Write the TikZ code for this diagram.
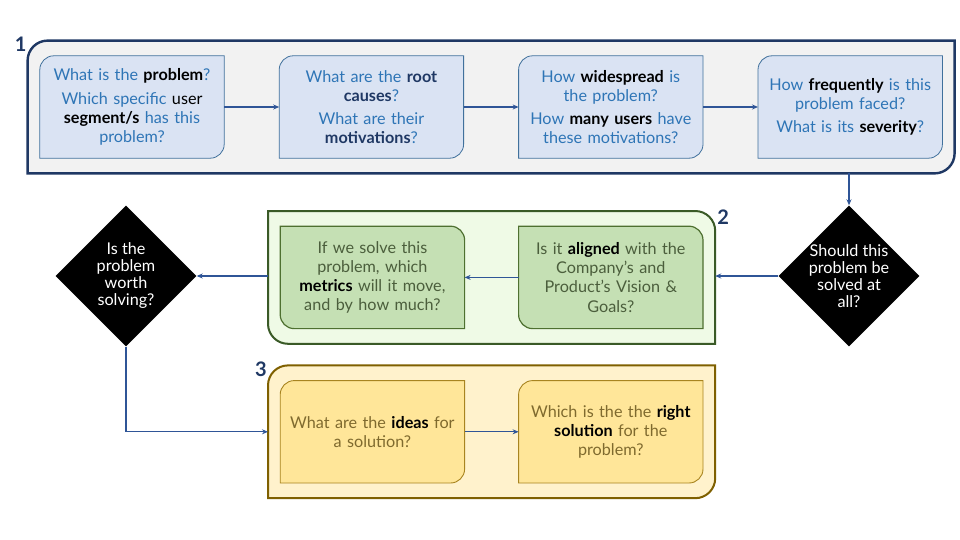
\documentclass[tikz,border=0pt]{standalone}
\usepackage{fontspec}
\setmainfont{Lato}
\usepackage{xcolor}
\definecolor{navyLine}{HTML}{1F3864}
\definecolor{groupOneFill}{HTML}{F2F2F2}
\definecolor{boxBlueFill}{HTML}{DAE3F3}
\definecolor{boxBlueLine}{HTML}{41719C}
\definecolor{textBlue}{HTML}{2E75B6}
\definecolor{groupTwoFill}{HTML}{EFFAE6}
\definecolor{groupTwoLine}{HTML}{3A5A27}
\definecolor{boxGreenFill}{HTML}{C5E0B4}
\definecolor{boxGreenLine}{HTML}{4E7030}
\definecolor{textGreen}{HTML}{4B5E3C}
\definecolor{groupThreeFill}{HTML}{FFF2CC}
\definecolor{groupThreeLine}{HTML}{7F6000}
\definecolor{boxYellowFill}{HTML}{FFE699}
\definecolor{boxYellowLine}{HTML}{A88420}
\definecolor{textYellow}{HTML}{7F6A2E}
\definecolor{arrowBlue}{HTML}{2F5597}
\usepackage{tikz}
\usetikzlibrary{arrows.meta, positioning, shapes.geometric, fit, backgrounds}

% outline with rounded top-left and bottom-right corners
\newcommand{\roundTLBR}[3]{%
  \path[#3] ([yshift=-#2]#1.north west) arc[start angle=180, end angle=90, radius=#2]
    -- (#1.north east) -- ([yshift=#2]#1.south east)
    arc[start angle=0, end angle=-90, radius=#2] -- (#1.south west) -- cycle;}
% outline with rounded top-right and bottom-left corners
\newcommand{\roundTRBL}[3]{%
  \path[#3] (#1.north west) -- ([xshift=-#2]#1.north east)
    arc[start angle=90, end angle=0, radius=#2] -- (#1.south east)
    -- ([xshift=#2]#1.south west) arc[start angle=270, end angle=180, radius=#2] -- cycle;}
\newcommand{\kw}[1]{\textbf{\color{black}#1}}
\newcommand{\kwnavy}[1]{\textbf{\color{navyLine}#1}}

\begin{document}
\begin{tikzpicture}[
		x=1pt, y=1pt,
		node distance=55pt,
		qbox/.style={
			text width=172pt,
			inner sep=6pt,
			minimum height=102pt,
			align=center,
			font=\fontsize{16.2}{19.2}\selectfont
		},
		bluebox/.style={qbox, text=textBlue},
		greenbox/.style={qbox, text=textGreen},
		yellowbox/.style={qbox, text=textYellow},
		group/.style={inner xsep=12pt, inner ysep=15pt},
		decision/.style={
			diamond, aspect=1,
			fill=black, text=white,
			minimum width=141pt, minimum height=141pt,
			inner sep=-6pt,
			align=center,
			font=\fontsize{16.2}{17}\selectfont
		},
		grouplabel/.style={font=\fontsize{20}{20}\selectfont\bfseries, text=navyLine},
		arrow/.style={-{Stealth[length=6pt, width=5pt]}, draw=arrowBlue, line width=1.1pt}
		]
		
		\useasboundingbox (0,0) rectangle (960,-540);
		
		% step 1
		\node[bluebox] (problem) at (132,-107) {What is the \kw{problem}?\\[4pt] Which specific {\color{black}user}\\ \kw{segment/s} has this\\ problem?};
		\node[bluebox, right=of problem] (causes) {What are the \kwnavy{root}\\ \kwnavy{causes}?\\[4pt] What are their\\ \kwnavy{motivations}?};
		\node[bluebox, right=of causes] (spread) {How \kw{widespread} is\\ the problem?\\[4pt] How \kw{many users} have\\ these motivations?};
		\node[bluebox, right=of spread] (frequency) {How \kw{frequently} is this\\ problem faced?\\[4pt] What is its \kw{severity}?};
		
		% step 2
		\node[decision] (shouldsolve) at (849,-276) {Should this\\ problem be\\ solved at\\ all?};
		\node[greenbox, below=68pt of spread] (aligned) {Is it \kw{aligned} with the\\ Company’s and\\ Product’s Vision \&\\ Goals?};
		\node[greenbox, left=54pt of aligned] (metrics) {If we solve this\\ problem, which\\ \kw{metrics} will it move,\\ and by how much?};
		\node[decision] (worthit) at (126,-276) {Is the\\ problem\\ worth\\ solving?};
		
		% step 3
		\node[yellowbox, below=52pt of metrics] (ideas) {What are the \kw{ideas} for\\ a solution?};
		\node[yellowbox, right=54pt of ideas] (solution) {Which is the the \kw{right}\\ \kw{solution} for the\\ problem?};
		
		\node[group, fit=(problem)(frequency)] (stepone) {};
		\node[group, fit=(metrics)(aligned)] (steptwo) {};
		\node[group, fit=(ideas)(solution)] (stepthree) {};
		
		\begin{scope}[on background layer]
			\fill[white] (0,0) rectangle (960,-540);
			\roundTLBR{stepone}{20pt}{fill=groupOneFill, draw=navyLine, line width=2.4pt}
			\roundTRBL{steptwo}{20pt}{fill=groupTwoFill, draw=groupTwoLine, line width=2pt}
			\roundTLBR{stepthree}{20pt}{fill=groupThreeFill, draw=groupThreeLine, line width=2pt}
			\foreach \n in {problem, causes, spread, frequency}
				{\roundTLBR{\n}{14pt}{fill=boxBlueFill, draw=boxBlueLine, line width=0.8pt}}
			\foreach \n in {aligned, metrics}
				{\roundTRBL{\n}{14pt}{fill=boxGreenFill, draw=boxGreenLine, line width=1.2pt}}
			\foreach \n in {ideas, solution}
				{\roundTLBR{\n}{14pt}{fill=boxYellowFill, draw=boxYellowLine, line width=0.9pt}}
		\end{scope}
		
		\node[grouplabel] (labelone) at ([xshift=-7pt, yshift=-4pt]stepone.north west) {1};
		\node[grouplabel] (labeltwo) at ([xshift=8pt, yshift=-6pt]steptwo.north east) {2};
		\node[grouplabel] (labelthree) at ([xshift=-7pt, yshift=-4pt]stepthree.north west) {3};
		
		\draw[arrow] (problem) -- (causes);
		\draw[arrow] (causes) -- (spread);
		\draw[arrow] (spread) -- (frequency);
		\draw[arrow] (stepone.south -| shouldsolve.north) -- (shouldsolve.north);
		\draw[arrow] (shouldsolve.west) -- (shouldsolve.west -| steptwo.east);
		\draw[arrow] (aligned) -- (metrics);
		\draw[arrow] (steptwo.west |- worthit.east) -- (worthit.east);
		\draw[arrow] (worthit.south) |- (stepthree.west);
		\draw[arrow] (ideas) -- (solution);
		
	\end{tikzpicture}
\end{document}
